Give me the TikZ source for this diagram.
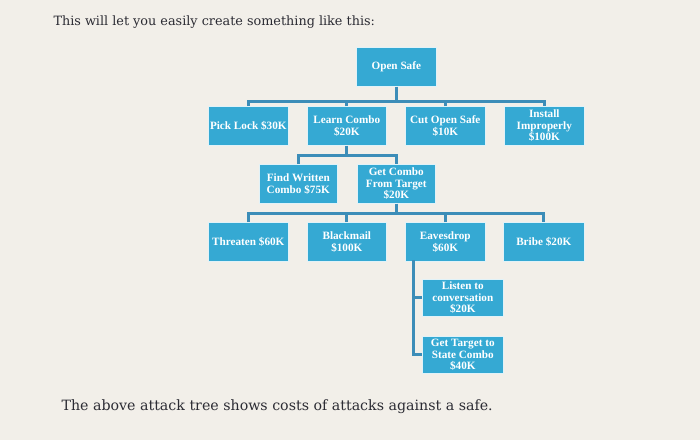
\documentclass[tikz,border=0pt]{standalone}
\usepackage{fontspec}
\setmainfont{Liberation Serif}
\newfontfamily\capfont{DejaVu Serif}
\definecolor{bg}{HTML}{F2EFE9}
\definecolor{boxc}{HTML}{35A9D3}
\definecolor{linec}{HTML}{3C8DB8}
\definecolor{txt}{HTML}{2B2B33}
\tikzset{
 bx/.style={fill=boxc,draw=white!85!boxc,line width=0.6pt,text=white,font=\bfseries\fontsize{11.2}{11.5}\selectfont,align=center,inner sep=0pt,anchor=north west},
 ln/.style={draw=linec,line width=3pt},
}
\begin{document}
\begin{tikzpicture}[x=1pt,y=-1pt]
\fill[bg] (0,0) rectangle (700,440);
\useasboundingbox (0,0) rectangle (700,440);
\node[anchor=west,text=txt,font=\capfont\fontsize{12.8}{14}\selectfont] (t) at (50,22) {This will let you easily create something like this:};
\node[anchor=west,text=txt,font=\capfont\fontsize{14.2}{16}\selectfont] (b) at (58,407) {The above attack tree shows costs of attacks against a safe.};
\newcommand\bxat[4]{\node[bx,minimum width=#3pt,minimum height=39pt] (#1) at (#2) {#4};}
\bxat{os}{356,47}{80}{Open Safe}
\bxat{pl}{208,106}{80}{Pick Lock \$30K}
\bxat{lc}{307,106}{79}{Learn Combo\\\$20K}
\bxat{co}{405,106}{80}{Cut Open Safe\\\$10K}
\bxat{ii}{504,106}{80}{Install\\Improperly\\\$100K}
\bxat{fw}{259,164}{78}{Find Written\\Combo \$75K}
\bxat{gc}{357,164}{78}{Get Combo\\From Target\\\$20K}
\bxat{th}{208,222}{80}{Threaten \$60K}
\bxat{bm}{307,222}{79}{Blackmail\\\$100K}
\bxat{ed}{405,222}{80}{Eavesdrop\\\$60K}
\bxat{br}{503,222}{81}{Bribe \$20K}
\node[bx,minimum width=81pt,minimum height=37pt] (lt) at (422,279) {Listen to\\conversation\\\$20K};
\node[bx,minimum width=81pt,minimum height=37pt] (gt) at (422,336) {Get Target to\\State Combo\\\$40K};
% connectors
\draw[ln] (os.south) -- ++(0,15) coordinate (j1);
\draw[ln] (pl.north) |- (j1) -| (ii.north);
\draw[ln] (lc.north) -- (lc.north|-j1);
\draw[ln] (co.north) -- (co.north|-j1);
\draw[ln] (lc.south) -- ++(0,10) coordinate (j2);
\draw[ln] (fw.north) |- (j2) -| (gc.north);
\draw[ln] (gc.south) -- ++(0,10) coordinate (j3);
\draw[ln] (th.north) |- (j3) -| (br.north);
\draw[ln] (bm.north) -- (bm.north|-j3);
\draw[ln] (ed.north) -- (ed.north|-j3);
\coordinate (v) at (413,260);
\draw[ln] (v) |- (gt.west);
\draw[ln] (v|-lt.west) -- (lt.west);
\end{tikzpicture}
\end{document}
